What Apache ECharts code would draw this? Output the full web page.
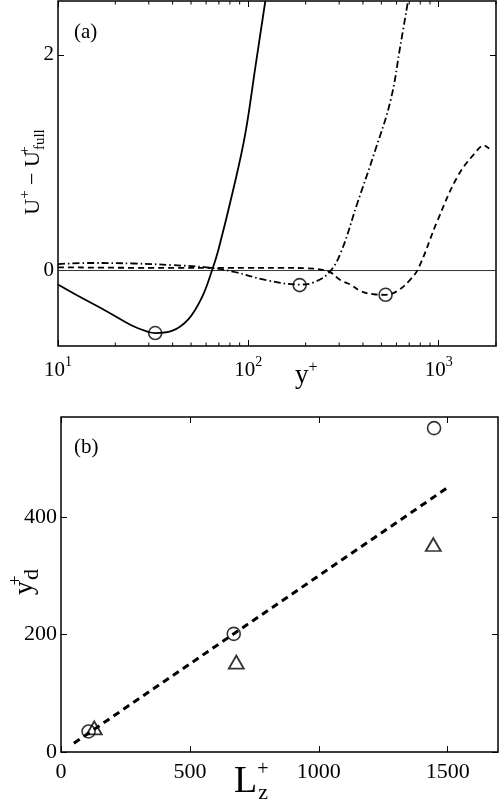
<!DOCTYPE html>
<html>
<head>
<meta charset="utf-8">
<script src="https://cdn.jsdelivr.net/npm/echarts@6/dist/echarts.min.js"></script>
<style>
  html, body { margin: 0; padding: 0; background: #fff; }
  #main { width: 500px; height: 804px; }
</style>
</head>
<body>
<div id="main"></div>
<script>
// (a) 速度差曲线, y+ 对数坐标
var solidX = [10, 12.3, 17.7, 24.4, 29.9, 32.4, 39.6, 48.5, 57, 64.4, 69.8, 83.8, 96.4, 108.9, 122.8];
var solidU = [-0.13, -0.22, -0.37, -0.51, -0.57, -0.58, -0.56, -0.45, -0.25, 0, 0.2, 0.77, 1.27, 1.89, 2.5];

var dashDotX = [10, 15, 25, 40, 60, 83, 125, 186, 220, 265, 305, 373, 457, 559, 631, 690];
var dashDotU = [0.06, 0.07, 0.065, 0.05, 0.03, -0.01, -0.09, -0.13, -0.11, -0.02, 0.16, 0.62, 1.08, 1.58, 2.1, 2.5];

var dashedX = [10, 30, 100, 150, 204, 265, 305, 344, 388, 457, 526, 606, 713, 787, 984, 1254, 1534, 1731, 1841];
var dashedU = [0.03, 0.025, 0.025, 0.025, 0.02, -0.01, -0.09, -0.13, -0.19, -0.22, -0.225, -0.19, -0.08, 0.03, 0.46, 0.87, 1.08, 1.16, 1.13];

var minX = [32.4, 186, 526];
var minU = [-0.58, -0.135, -0.225];

var aTicksX = [10, 100, 1000];
var aMinorX = [20, 30, 40, 50, 60, 70, 80, 90, 200, 300, 400, 500, 600, 700, 800, 900, 2000];
var aTicksY = [0, 2];

// (b) y_d+ 与 L_z+
var lzCircle = [107, 670, 1447];
var ydCircle = [35, 201, 551];
var lzTri = [129, 680, 1444];
var ydTri = [41, 153, 353];
var fitLz = [50, 1500];
var fitYd = [15, 450];

var bTicksX = [0, 500, 1000, 1500];
var bTicksY = [0, 200, 400];

function zip(xs, ys) {
    var out = [];
    for (var i = 0; i < xs.length; i++) {
        out.push([xs[i], ys[i]]);
    }
    return out;
}

var FONT = 'Liberation Serif';
var tick = { show: true, inside: true, length: 6, lineStyle: { color: '#000', width: 1 } };
var noLine = { show: false, onZero: false };

function ticks(vals) {
    return Object.assign({}, tick, { customValues: vals });
}

function plain(v) {
    return String(v);
}

var chart = echarts.init(document.getElementById('main'));

var option = {
    animation: false,
    backgroundColor: '#fff',
    grid: [
        { left: 58, top: 1, width: 438, height: 345, show: true, borderColor: '#000', borderWidth: 1.5, backgroundColor: 'transparent', outerBoundsMode: 'none' },
        { left: 61, top: 417, width: 437, height: 335, show: true, borderColor: '#000', borderWidth: 1.5, backgroundColor: 'transparent', outerBoundsMode: 'none' }
    ],
    xAxis: [
        {
            gridIndex: 0, type: 'log', logBase: 10, min: 10, max: 2000,
            axisLine: noLine, splitLine: { show: false },
            axisTick: ticks(aTicksX),
            axisLabel: {
                customValues: aTicksX, margin: 9,
                formatter: function (v) {
                    return '{b|10}{s|' + Math.round(Math.log10(v)) + '}';
                },
                rich: {
                    b: { fontFamily: FONT, fontSize: 21, color: '#000', lineHeight: 26, verticalAlign: 'bottom' },
                    s: { fontFamily: FONT, fontSize: 14, color: '#000', lineHeight: 14, verticalAlign: 'top' }
                }
            }
        },
        {
            gridIndex: 0, type: 'log', logBase: 10, min: 10, max: 2000, position: 'top',
            axisLine: noLine, splitLine: { show: false },
            axisTick: ticks(aTicksX), axisLabel: { show: false }
        },
        {
            gridIndex: 1, type: 'value', min: 0, max: 1695,
            axisLine: noLine, splitLine: { show: false },
            axisTick: ticks(bTicksX),
            axisLabel: { customValues: bTicksX, formatter: plain, margin: 9, fontFamily: FONT, fontSize: 22, color: '#000' }
        },
        {
            gridIndex: 1, type: 'value', min: 0, max: 1695, position: 'top',
            axisLine: noLine, splitLine: { show: false },
            axisTick: ticks(bTicksX), axisLabel: { show: false }
        }
    ],
    yAxis: [
        {
            gridIndex: 0, type: 'value', min: -0.7, max: 2.5,
            axisLine: noLine, splitLine: { show: false },
            axisTick: ticks(aTicksY),
            axisLabel: { customValues: aTicksY, formatter: plain, margin: 4, fontFamily: FONT, fontSize: 21, color: '#000' }
        },
        {
            gridIndex: 0, type: 'value', min: -0.7, max: 2.5, position: 'right',
            axisLine: noLine, splitLine: { show: false },
            axisTick: ticks(aTicksY), axisLabel: { show: false }
        },
        {
            gridIndex: 1, type: 'value', min: 0, max: 570,
            axisLine: noLine, splitLine: { show: false },
            axisTick: ticks(bTicksY),
            axisLabel: { customValues: bTicksY, formatter: plain, margin: 4, fontFamily: FONT, fontSize: 22, color: '#000' }
        },
        {
            gridIndex: 1, type: 'value', min: 0, max: 570, position: 'right',
            axisLine: noLine, splitLine: { show: false },
            axisTick: ticks(bTicksY), axisLabel: { show: false }
        }
    ],
    series: [
        // 零线
        {
            type: 'line', xAxisIndex: 0, yAxisIndex: 0, data: [[10, 0], [2000, 0]],
            symbol: 'none', lineStyle: { color: '#333', width: 1 }, silent: true
        },
        {
            type: 'line', xAxisIndex: 0, yAxisIndex: 0, data: zip(solidX, solidU),
            symbol: 'none', smooth: 0.4, lineStyle: { color: '#000', width: 1.8 }
        },
        {
            type: 'line', xAxisIndex: 0, yAxisIndex: 0, data: zip(dashDotX, dashDotU),
            symbol: 'none', smooth: 0.4, lineStyle: { color: '#000', width: 1.8, type: [7, 3, 1.5, 3] }
        },
        {
            type: 'line', xAxisIndex: 0, yAxisIndex: 0, data: zip(dashedX, dashedU),
            symbol: 'none', smooth: 0.4, lineStyle: { color: '#000', width: 1.8, type: [6, 4] }
        },
        {
            type: 'scatter', xAxisIndex: 0, yAxisIndex: 0, data: zip(minX, minU),
            symbol: 'circle', symbolSize: 13,
            itemStyle: { color: 'transparent', borderColor: '#000', borderWidth: 1.6 }
        },
        // 对数轴小刻度
        {
            type: 'custom', xAxisIndex: 0, yAxisIndex: 0, silent: true, clip: false,
            data: aMinorX.map(function (v) { return [v, 0]; }),
            encode: { x: 0, y: 1 },
            renderItem: function (params, api) {
                var x = api.coord([api.value(0), 0])[0];
                var cs = params.coordSys;
                var st = { stroke: '#000', lineWidth: 1 };
                return {
                    type: 'group',
                    children: [
                        { type: 'line', shape: { x1: x, y1: cs.y + cs.height, x2: x, y2: cs.y + cs.height - 3.5 }, style: st },
                        { type: 'line', shape: { x1: x, y1: cs.y, x2: x, y2: cs.y + 3.5 }, style: st }
                    ]
                };
            }
        },
        // (b)
        {
            type: 'line', xAxisIndex: 2, yAxisIndex: 2, data: zip(fitLz, fitYd),
            symbol: 'none', lineStyle: { color: '#000', width: 3, type: [7, 5] }
        },
        {
            type: 'scatter', xAxisIndex: 2, yAxisIndex: 2, data: zip(lzCircle, ydCircle),
            symbol: 'circle', symbolSize: 13,
            itemStyle: { color: 'transparent', borderColor: '#000', borderWidth: 1.6 }
        },
        {
            type: 'scatter', xAxisIndex: 2, yAxisIndex: 2, data: zip(lzTri, ydTri),
            symbol: 'triangle', symbolSize: [15, 13],
            itemStyle: { color: 'transparent', borderColor: '#000', borderWidth: 1.8 }
        }
    ],
    graphic: [
        {
            type: 'text', left: 74, top: 22,
            style: { text: '(a)', fontFamily: FONT, fontSize: 21, fill: '#000' }
        },
        {
            type: 'text', left: 74, top: 437,
            style: { text: '(b)', fontFamily: FONT, fontSize: 21, fill: '#000' }
        },
        {
            type: 'text', x: 33, y: 172, rotation: Math.PI / 2,
            style: {
                text: '{b|U}{p|+}{b| \u2212 U}{q|+}{d|full}',
                align: 'center', verticalAlign: 'middle',
                rich: {
                    b: { fontFamily: FONT, fontSize: 22, fill: '#000', lineHeight: 30, verticalAlign: 'middle' },
                    p: { fontFamily: FONT, fontSize: 15, fill: '#000', lineHeight: 15, verticalAlign: 'top' },
                    q: { fontFamily: FONT, fontSize: 15, fill: '#000', lineHeight: 15, verticalAlign: 'top', width: 1 },
                    d: { fontFamily: FONT, fontSize: 15, fill: '#000', lineHeight: 15, verticalAlign: 'bottom' }
                }
            }
        },
        {
            type: 'text', x: 295, y: 376,
            style: {
                text: '{b|y}{p|+}',
                align: 'left', verticalAlign: 'middle',
                rich: {
                    b: { fontFamily: FONT, fontSize: 27, fill: '#000', lineHeight: 32, verticalAlign: 'middle' },
                    p: { fontFamily: FONT, fontSize: 16, fill: '#000', lineHeight: 16, verticalAlign: 'top' }
                }
            }
        },
        {
            type: 'text', x: 25, y: 582, rotation: Math.PI / 2,
            style: {
                text: '{b|y}{q|+}{d|d}',
                align: 'center', verticalAlign: 'middle',
                rich: {
                    b: { fontFamily: FONT, fontSize: 28, fill: '#000', lineHeight: 36, verticalAlign: 'middle' },
                    q: { fontFamily: FONT, fontSize: 18, fill: '#000', lineHeight: 18, verticalAlign: 'top', width: 1 },
                    d: { fontFamily: FONT, fontSize: 22, fill: '#000', lineHeight: 22, verticalAlign: 'bottom' }
                }
            }
        },
        {
            type: 'text', x: 234, y: 782,
            style: {
                text: '{b|L}{q|+}{d|z}',
                align: 'left', verticalAlign: 'middle',
                rich: {
                    b: { fontFamily: FONT, fontSize: 38, fill: '#000', lineHeight: 44, verticalAlign: 'middle' },
                    q: { fontFamily: FONT, fontSize: 20, fill: '#000', lineHeight: 20, verticalAlign: 'top', width: 1 },
                    d: { fontFamily: FONT, fontSize: 22, fill: '#000', lineHeight: 22, verticalAlign: 'bottom' }
                }
            }
        }
    ]
};

chart.setOption(option);
</script>
</body>
</html>
